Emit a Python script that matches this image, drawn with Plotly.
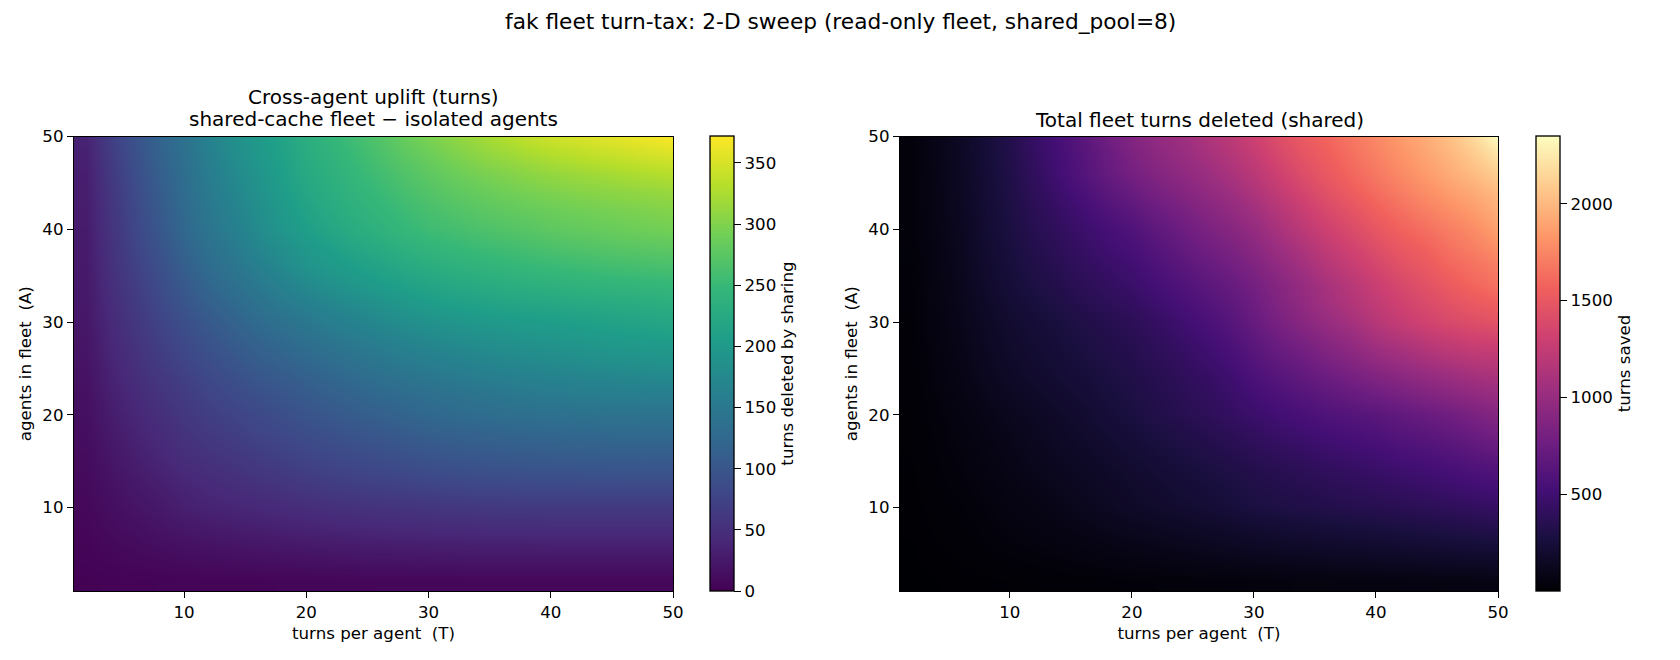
import plotly.graph_objects as go

# Sampled sweep coordinates
turns_per_agent = list(range(2, 51, 2))
agents_in_fleet = list(range(2, 51, 2))

# Turns deleted by sharing; one row per fleet size, smallest fleet first
uplift = [
    [1, 2, 2, 3, 3, 4, 4, 4, 5, 5, 5, 5, 6, 6, 6, 6, 6, 6, 6, 6, 6, 6, 6, 6, 6],
    [3, 5, 7, 8, 10, 11, 12, 13, 14, 15, 16, 17, 18, 18, 19, 19, 20, 20, 20, 20, 20, 20, 20, 20, 20],
    [4, 8, 11, 14, 17, 19, 21, 23, 24, 26, 28, 29, 30, 31, 32, 32, 33, 33, 33, 34, 34, 34, 34, 34, 34],
    [6, 11, 15, 20, 24, 27, 30, 32, 35, 37, 39, 41, 43, 44, 45, 46, 47, 48, 48, 49, 49, 49, 49, 49, 49],
    [7, 14, 20, 25, 32, 36, 39, 42, 45, 48, 51, 53, 55, 56, 58, 60, 61, 62, 62, 63, 63, 63, 63, 63, 63],
    [9, 17, 24, 30, 37, 42, 47, 51, 55, 60, 64, 67, 69, 71, 74, 76, 78, 79, 80, 81, 81, 82, 82, 82, 82],
    [10, 20, 28, 36, 44, 49, 54, 60, 65, 70, 74, 78, 81, 84, 88, 90, 92, 94, 95, 96, 97, 97, 98, 98, 98],
    [12, 23, 32, 41, 50, 56, 62, 68, 74, 80, 84, 88, 92, 96, 100, 103, 105, 107, 109, 110, 111, 112, 112, 113, 113],
    [13, 26, 36, 45, 55, 63, 69, 76, 82, 88, 93, 98, 102, 107, 112, 115, 117, 119, 121, 123, 124, 125, 126, 126, 127],
    [15, 29, 40, 50, 60, 69, 76, 83, 90, 97, 103, 109, 114, 119, 125, 128, 131, 134, 136, 138, 139, 140, 140, 141, 141],
    [16, 32, 44, 55, 65, 75, 83, 91, 98, 105, 112, 118, 124, 129, 134, 138, 142, 146, 149, 152, 154, 156, 157, 158, 158],
    [18, 35, 48, 60, 71, 82, 91, 100, 107, 114, 122, 129, 136, 142, 147, 152, 156, 160, 163, 166, 168, 170, 172, 174, 175],
    [20, 38, 52, 66, 78, 89, 99, 109, 117, 125, 133, 141, 148, 155, 160, 165, 170, 174, 177, 180, 183, 186, 188, 190, 192],
    [21, 41, 56, 71, 84, 96, 108, 118, 127, 136, 145, 153, 161, 168, 174, 179, 183, 187, 190, 193, 196, 199, 201, 203, 205],
    [23, 44, 60, 76, 90, 104, 116, 128, 138, 148, 158, 166, 174, 182, 188, 193, 197, 200, 203, 205, 208, 211, 214, 217, 220],
    [24, 47, 64, 82, 98, 113, 126, 139, 152, 162, 172, 180, 189, 197, 204, 209, 213, 217, 219, 221, 224, 226, 228, 230, 233],
    [25, 50, 68, 87, 104, 122, 136, 150, 164, 176, 187, 196, 204, 211, 218, 223, 227, 231, 234, 237, 240, 242, 244, 246, 248],
    [26, 52, 72, 92, 111, 130, 144, 160, 176, 190, 200, 208, 216, 224, 231, 236, 240, 244, 248, 251, 254, 257, 259, 261, 263],
    [27, 54, 76, 97, 118, 137, 152, 170, 184, 198, 209, 220, 228, 236, 243, 248, 253, 257, 261, 265, 268, 271, 274, 276, 278],
    [28, 56, 80, 102, 124, 144, 160, 178, 194, 208, 220, 230, 238, 247, 255, 260, 265, 269, 273, 278, 281, 284, 287, 290, 292],
    [29, 58, 82, 105, 127, 148, 165, 182, 199, 214, 226, 236, 245, 254, 262, 268, 274, 279, 283, 287, 290, 293, 296, 299, 302],
    [30, 60, 85, 108, 130, 152, 170, 187, 204, 220, 231, 241, 251, 261, 270, 277, 283, 289, 294, 298, 302, 305, 308, 311, 314],
    [31, 63, 88, 112, 133, 156, 175, 191, 208, 225, 236, 247, 258, 268, 278, 286, 294, 300, 306, 312, 316, 320, 324, 328, 331],
    [33, 66, 92, 116, 136, 160, 180, 196, 212, 228, 240, 252, 264, 276, 287, 297, 306, 314, 321, 328, 333, 338, 342, 347, 351],
    [35, 70, 95, 120, 140, 165, 185, 200, 215, 232, 245, 258, 270, 285, 297, 308, 318, 328, 338, 345, 350, 355, 360, 365, 370],
]

# Total turns saved by the shared fleet; same row order
total_saved = [
    [1, 3, 5, 7, 10, 12, 15, 18, 21, 24, 27, 30, 33, 36, 40, 43, 46, 49, 52, 55, 58, 60, 63, 66, 70],
    [2, 6, 10, 15, 22, 28, 35, 43, 50, 58, 65, 73, 80, 88, 95, 103, 110, 116, 122, 128, 134, 140, 147, 153, 160],
    [3, 9, 15, 24, 36, 45, 55, 68, 80, 92, 103, 115, 128, 140, 155, 167, 177, 187, 195, 203, 213, 223, 233, 245, 255],
    [4, 12, 20, 32, 48, 60, 75, 92, 108, 125, 140, 155, 172, 190, 210, 225, 238, 250, 262, 272, 285, 298, 312, 330, 345],
    [5, 15, 25, 40, 60, 75, 95, 115, 140, 165, 185, 205, 225, 250, 280, 295, 310, 325, 340, 350, 365, 380, 395, 415, 440],
    [7, 20, 33, 50, 70, 90, 110, 132, 155, 180, 203, 226, 250, 272, 303, 325, 345, 365, 385, 403, 425, 445, 470, 495, 520],
    [8, 24, 40, 60, 81, 102, 125, 148, 172, 198, 224, 250, 275, 302, 332, 355, 382, 408, 430, 455, 480, 505, 535, 570, 600],
    [10, 28, 47, 68, 92, 117, 142, 168, 195, 222, 250, 280, 310, 342, 375, 405, 435, 465, 490, 515, 550, 575, 610, 655, 700],
    [11, 31, 53, 76, 103, 130, 158, 187, 218, 248, 280, 312, 345, 380, 418, 455, 490, 525, 550, 580, 620, 650, 690, 740, 800],
    [12, 35, 60, 85, 115, 145, 175, 205, 240, 275, 315, 350, 385, 425, 470, 510, 550, 590, 620, 650, 690, 730, 770, 830, 900],
    [14, 41, 70, 102, 137, 167, 197, 225, 257, 293, 330, 368, 407, 455, 515, 565, 615, 665, 710, 755, 805, 855, 900, 950, 1000],
    [16, 48, 80, 120, 160, 190, 220, 247, 277, 312, 350, 390, 432, 488, 565, 625, 685, 745, 805, 865, 920, 975, 1020, 1065, 1110],
    [18, 52, 87, 130, 174, 205, 235, 267, 298, 332, 375, 420, 470, 530, 615, 690, 755, 830, 900, 975, 1035, 1095, 1145, 1185, 1210],
    [19, 56, 94, 140, 187, 220, 252, 288, 322, 355, 400, 452, 508, 575, 665, 755, 830, 915, 990, 1085, 1145, 1210, 1265, 1305, 1330],
    [20, 60, 100, 150, 200, 235, 270, 310, 345, 380, 430, 490, 550, 620, 720, 820, 915, 1000, 1085, 1180, 1255, 1325, 1380, 1420, 1460],
    [23, 65, 107, 165, 220, 262, 303, 345, 382, 422, 478, 540, 600, 667, 760, 865, 965, 1065, 1150, 1235, 1320, 1390, 1455, 1510, 1560],
    [26, 69, 113, 180, 240, 290, 335, 380, 420, 465, 525, 590, 650, 715, 800, 900, 1000, 1100, 1190, 1285, 1375, 1450, 1525, 1595, 1660],
    [27, 72, 118, 190, 254, 310, 360, 410, 455, 500, 570, 640, 710, 775, 860, 960, 1065, 1170, 1260, 1350, 1440, 1510, 1590, 1650, 1715],
    [28, 76, 124, 200, 267, 330, 385, 440, 495, 545, 620, 695, 770, 835, 925, 1030, 1135, 1240, 1330, 1420, 1505, 1570, 1650, 1720, 1800],
    [30, 80, 130, 210, 280, 350, 410, 470, 530, 590, 670, 750, 830, 900, 990, 1100, 1210, 1310, 1400, 1490, 1570, 1640, 1710, 1780, 1880],
    [31, 82, 135, 216, 290, 368, 440, 510, 590, 660, 740, 815, 895, 965, 1060, 1170, 1280, 1380, 1470, 1560, 1640, 1715, 1785, 1860, 1950],
    [32, 84, 140, 222, 300, 388, 475, 560, 650, 730, 810, 885, 960, 1035, 1130, 1240, 1350, 1450, 1540, 1625, 1705, 1785, 1860, 1930, 2010],
    [33, 86, 144, 228, 310, 408, 510, 610, 710, 800, 880, 950, 1020, 1105, 1200, 1310, 1420, 1510, 1600, 1685, 1770, 1850, 1935, 2020, 2110],
    [34, 88, 147, 234, 320, 425, 525, 620, 730, 840, 930, 1000, 1075, 1160, 1255, 1365, 1470, 1550, 1640, 1725, 1810, 1895, 1985, 2090, 2220],
    [35, 90, 150, 240, 330, 440, 540, 650, 770, 880, 970, 1040, 1120, 1210, 1310, 1420, 1520, 1590, 1680, 1760, 1850, 1940, 2040, 2170, 2350],
]

axis_ticks = [10, 20, 30, 40, 50]
uplift_ticks = [0, 50, 100, 150, 200, 250, 300, 350]
saved_ticks = [500, 1000, 1500, 2000]

W, H = 1680, 660
FONT = "DejaVu Sans"
TOP, BOTTOM = 136.5, 591
TICK_PT = 16.67
LINE = 1.33


def px_x(v):
    return v / W


def px_y(v):
    return 1 - v / H


def colorbar(left, label, ticks):
    return dict(
        x=px_x(left), xanchor="left", xpad=0,
        y=px_y(BOTTOM), yanchor="bottom", ypad=0,
        len=(BOTTOM - TOP) / H, thickness=24,
        outlinecolor="black", outlinewidth=LINE,
        ticks="outside", ticklen=7, tickwidth=LINE, tickcolor="black",
        tickvals=ticks, tickfont=dict(family=FONT, size=TICK_PT, color="black"),
        title=dict(text=label, side="right", font=dict(family=FONT, size=TICK_PT, color="black")),
    )


fig = go.Figure()
fig.add_trace(go.Heatmap(
    x=turns_per_agent, y=agents_in_fleet, z=uplift, zsmooth="best",
    colorscale="Viridis", zmin=0, zmax=372, xaxis="x", yaxis="y",
    colorbar=colorbar(710, "turns deleted by sharing", uplift_ticks),
))
fig.add_trace(go.Heatmap(
    x=turns_per_agent, y=agents_in_fleet, z=total_saved, zsmooth="best",
    colorscale="Magma", zmin=1, zmax=2350, xaxis="x2", yaxis="y2",
    colorbar=colorbar(1536, "turns saved", saved_ticks),
))


def axis(title, domain, anchor, standoff):
    return dict(
        domain=domain, anchor=anchor, range=[1, 50], tickvals=axis_ticks,
        showgrid=False, zeroline=False, showline=True, mirror=True,
        linecolor="black", linewidth=LINE, ticks="outside", ticklen=6,
        tickwidth=LINE, tickcolor="black", automargin=False,
        tickfont=dict(family=FONT, size=TICK_PT, color="black"),
        title=dict(text=title, standoff=standoff, font=dict(family=FONT, size=TICK_PT, color="black")),
    )


def label(text, x, y, size):
    return dict(text=text, x=px_x(x), y=px_y(y), xref="paper", yref="paper",
                showarrow=False, xanchor="center", yanchor="middle",
                font=dict(family=FONT, size=size, color="black"))


y_domain = [px_y(BOTTOM), px_y(TOP)]
fig.update_layout(
    width=W, height=H, autosize=False,
    margin=dict(l=0, r=0, t=0, b=0),
    paper_bgcolor="white", plot_bgcolor="white",
    font=dict(family=FONT, color="black"),
    xaxis=axis("turns per agent \u00a0(T)", [px_x(74), px_x(673)], "y", 6),
    yaxis=axis("agents in fleet \u00a0(A)", y_domain, "x", 6),
    xaxis2=axis("turns per agent \u00a0(T)", [px_x(900), px_x(1498)], "y2", 6),
    yaxis2=axis("agents in fleet \u00a0(A)", y_domain, "x2", 6),
    annotations=[
        label("fak fleet turn-tax: 2-D sweep (read-only fleet, shared_pool=8)", 840, 22, 21.7),
        label("Cross-agent uplift (turns)", 373.5, 97.5, 20),
        label("shared-cache fleet \u2212 isolated agents", 373.5, 119.5, 20),
        label("Total fleet turns deleted (shared)", 1199, 120, 20),
    ],
)
fig.write_html("out.html")
